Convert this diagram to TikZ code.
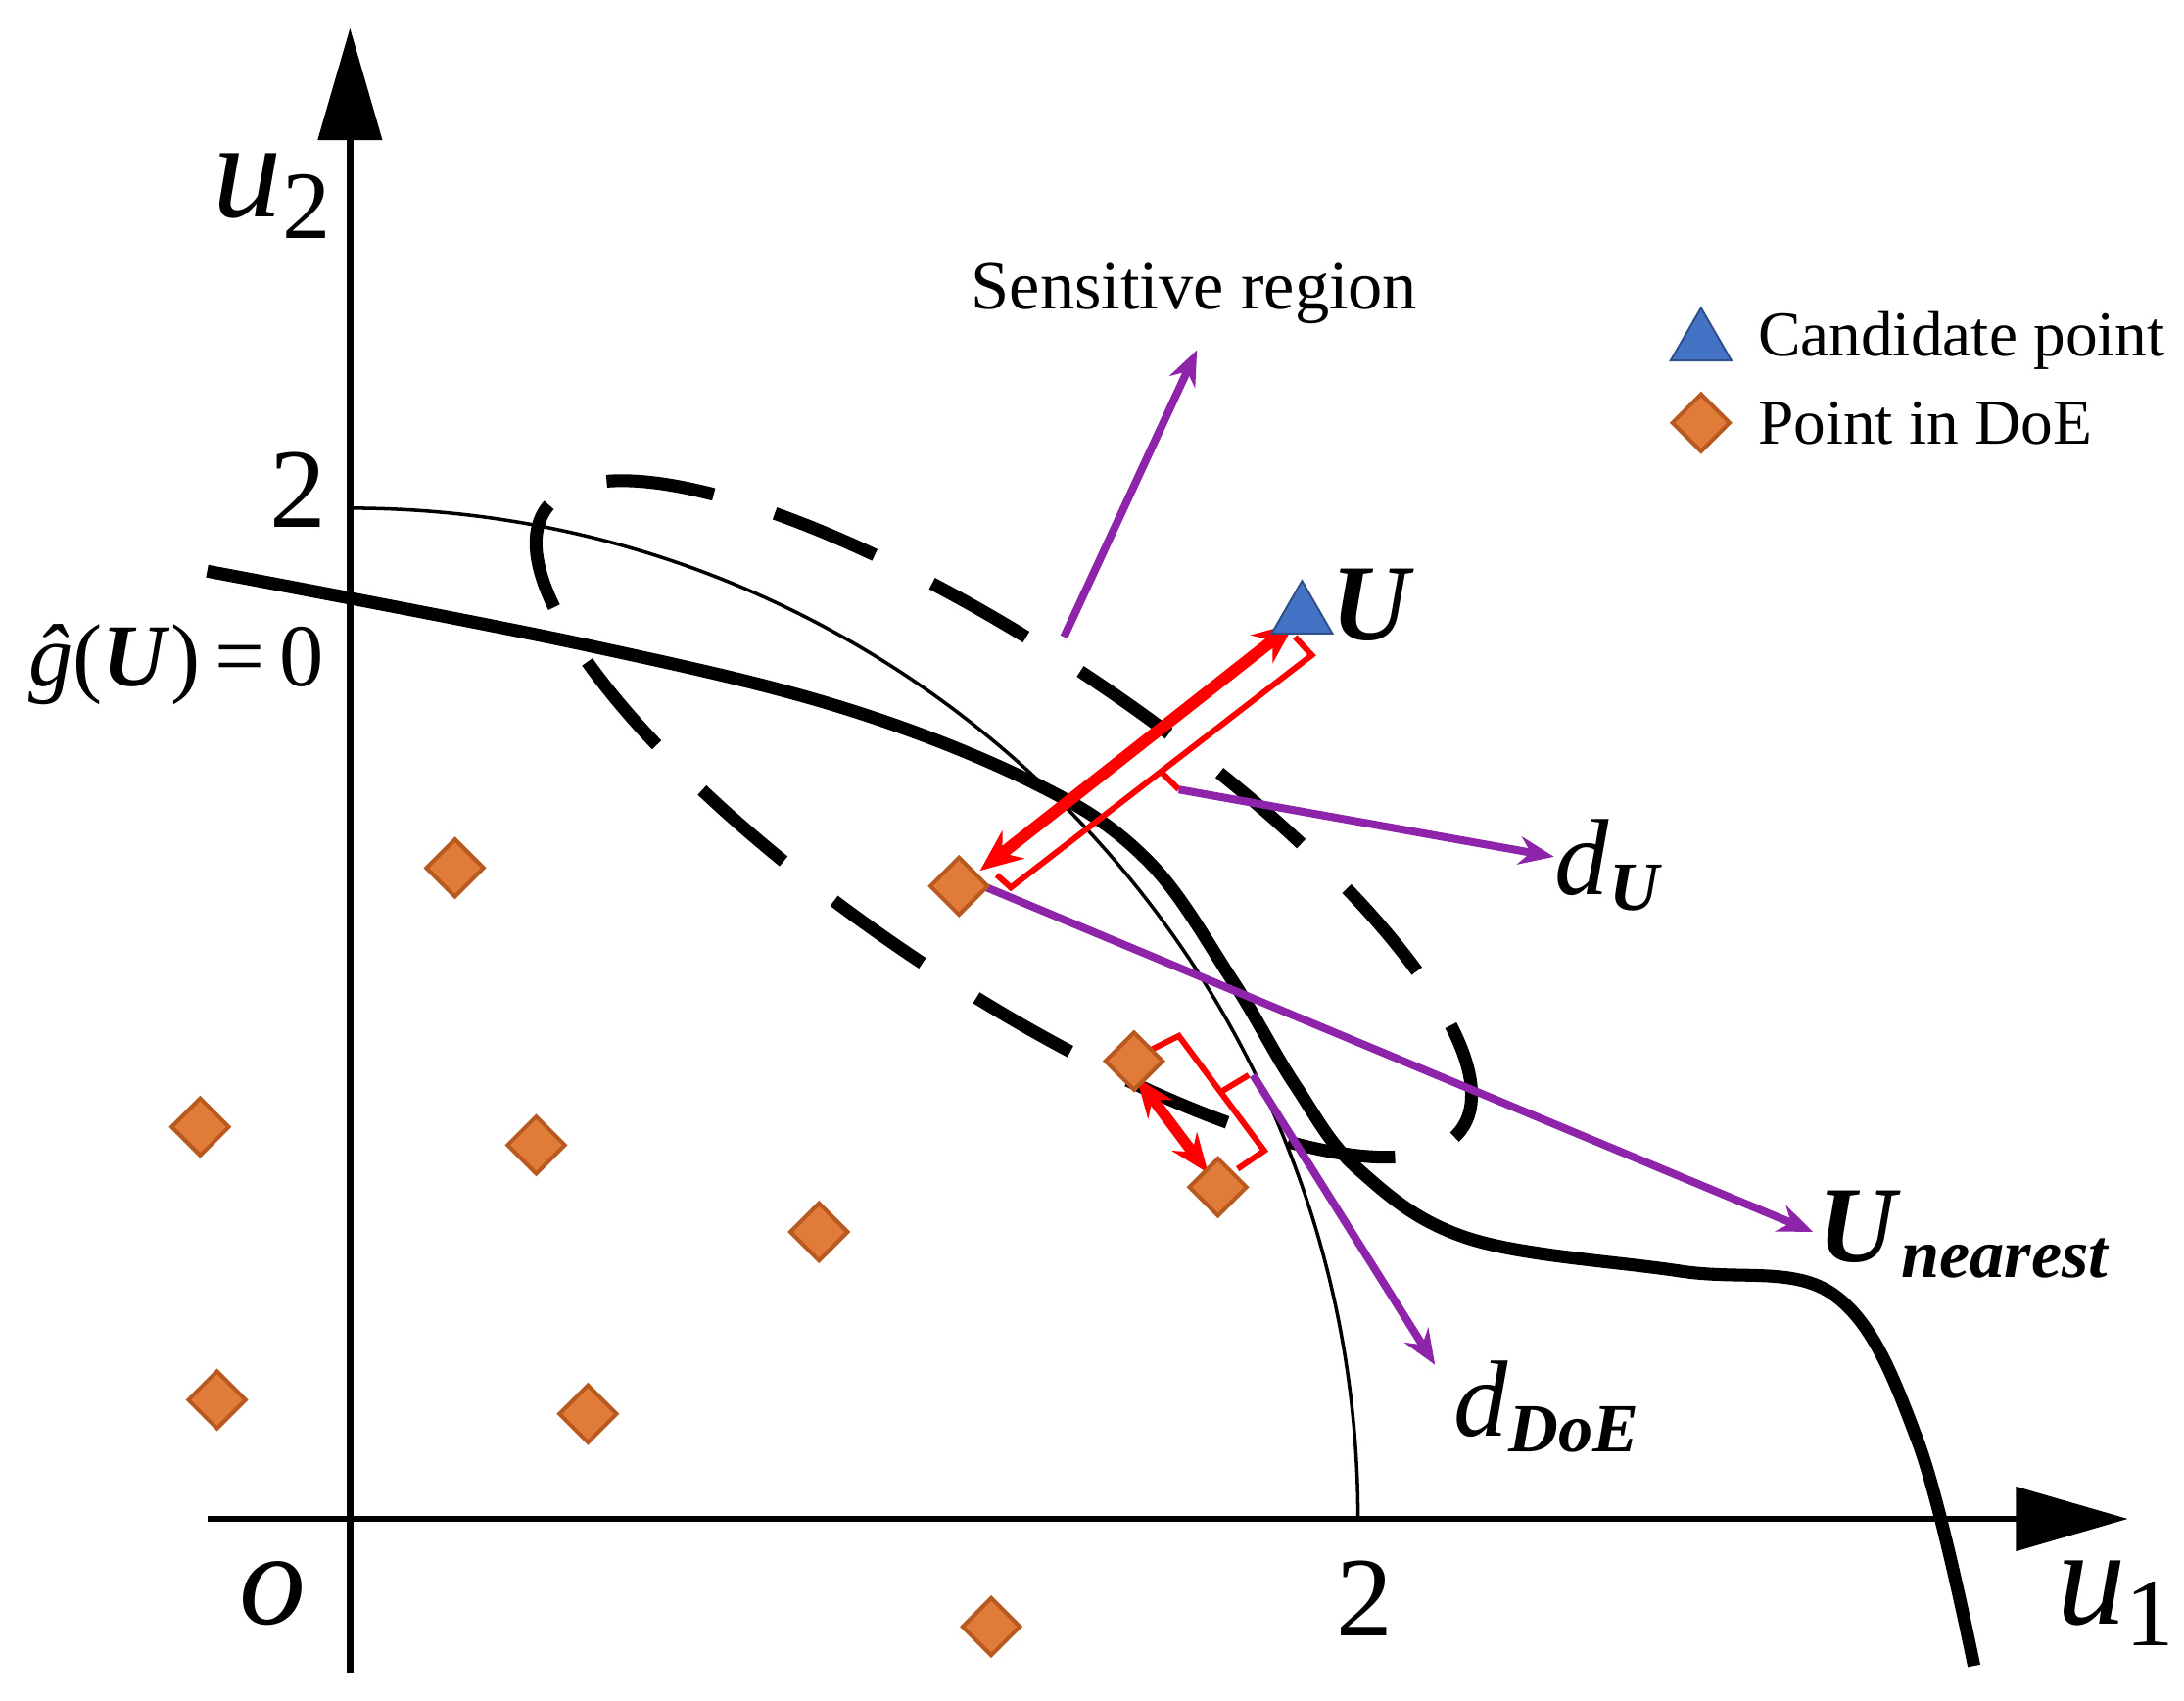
\documentclass[tikz,border=0pt]{standalone}
\usepackage{fontspec}
\setmainfont{Liberation Serif}
\usetikzlibrary{arrows.meta,shapes.geometric}
\definecolor{dia}{HTML}{E07B39}
\definecolor{diaE}{HTML}{B85A20}
\definecolor{tri}{HTML}{4472C4}
\definecolor{pur}{HTML}{8E24AA}
\tikzset{
 doe/.style={diamond,fill=dia,draw=diaE,line width=0.8pt,minimum width=0.42cm,minimum height=0.42cm,inner sep=0pt},
 cand/.style={regular polygon,regular polygon sides=3,fill=tri,draw=tri!70!black,minimum size=0.5cm,inner sep=0pt},
 parr/.style={pur,line width=1.6pt,-{Stealth[length=0.25cm,width=0.2cm]}},
 lab/.style={inner sep=0pt},
}
\begin{document}
\begin{tikzpicture}[x=0.01cm,y=-0.01cm]
\useasboundingbox (0,0) rectangle (1560,1215);
% axes
\coordinate (xs) at (148,1085); \coordinate (xe) at (1520,1085);
\coordinate (ys) at (250,1195); \coordinate (ye) at (250,20);
\draw[line width=1.3pt,-{Triangle[length=0.8cm,width=0.45cm]}] (xs)--(xe);
\draw[line width=1.3pt,-{Triangle[length=0.8cm,width=0.45cm]}] (ys)--(ye);
\node[lab,font=\fontsize{28}{28}\selectfont] (u2) at (195,140) {\textit{u}\textsubscript{2}};
\node[lab,font=\fontsize{28}{28}\selectfont] (u1) at (1512,1145) {\textit{u}\textsubscript{1}};
\node[lab,font=\fontsize{23}{23}\selectfont] (t2a) at (213,350) {2};
\node[lab,font=\fontsize{23}{23}\selectfont] (t2b) at (975,1142) {2};
\node[lab,font=\fontsize{27}{27}\selectfont] (o) at (195,1138) {\textit{o}};
\node[lab,font=\fontsize{18}{18}\selectfont] (g) at (126,475) {\textit{\^g}(\textbf{\textit{U}})\,=\,0};
% circle arc
\draw[line width=0.7pt] (250,363) arc[start angle=90,end angle=0,x radius=720,y radius=-722];
% limit state curve
\draw[line width=2.6pt] plot[smooth,tension=0.6] coordinates {(148,408) (415,460) (600,505) (740,560) (820,615) (880,700) (925,775) (970,835) (1050,885) (1200,908) (1310,925) (1370,1030) (1410,1190)};
% dashed ellipse
\draw[line width=2.6pt,dash pattern=on 22pt off 13pt,rotate around={-34:(717,585)}] (717,585) ellipse[x radius=395,y radius=-118];
% purple arrows
\coordinate (s1) at (760,455); \coordinate (s2) at (855,250);
\draw[parr] (s1)--(s2);
\node[lab,font=\fontsize{14}{14}\selectfont] (sr) at (853,210) {Sensitive region};
% red distances
\coordinate (pa) at (700,622); \coordinate (pb) at (925,445);
\draw[red,line width=2.4pt,{Stealth[length=0.3cm,width=0.25cm]}-{Stealth[length=0.3cm,width=0.25cm]}] (pa)--(pb);
\draw[red,line width=1.2pt] (712,625)--(722,634)--(937,468)--(925,455);
\draw[red,line width=1.2pt] (829,551)--(842,564);
\coordinate (pc) at (812,770); \coordinate (pd) at (863,838);
\draw[red,line width=2.2pt,{Stealth[length=0.28cm,width=0.22cm]}-{Stealth[length=0.28cm,width=0.22cm]}] (pc)--(pd);
\draw[red,line width=1.2pt] (822,750)--(842,740)--(903,822)--(884,835);
\draw[red,line width=1.2pt] (872,780)--(892,768);
% purple to labels
\draw[parr] (842,564)--(1110,612);
\node[lab,font=\fontsize{22}{22}\selectfont] (dU) at (1150,618) {\textit{d}\textsubscript{\textbf{\textit{\fontsize{14}{14}\selectfont U}}}};
\draw[parr] (700,632)--(1295,880);
\node[lab,font=\fontsize{22}{22}\selectfont,anchor=west] (Un) at (1298,882) {\textbf{\textit{U}}\textsubscript{\textbf{\textit{\fontsize{14}{14}\selectfont nearest}}}};
\draw[parr] (895,768)--(1025,975);
\node[lab,font=\fontsize{22}{22}\selectfont,anchor=west] (dD) at (1038,1005) {\textit{d}\textsubscript{\textbf{\textit{\fontsize{14}{14}\selectfont DoE}}}};
% points
\node[cand] (U) at (930,440) {};
\node[lab,font=\fontsize{22}{22}\selectfont,anchor=west] (Ul) at (950,432) {\textbf{\textit{U}}};
\foreach \n/\p in {d1/{(325,620)},d2/{(685,633)},d3/{(143,805)},d4/{(383,818)},d5/{(585,880)},d6/{(810,758)},d7/{(870,848)},d8/{(155,1000)},d9/{(420,1010)},d10/{(708,1162)}}
  \node[doe] (\n) at \p {};
% legend
\node[cand] (lt) at (1215,245) {};
\node[doe] (ld) at (1215,302) {};
\node[lab,anchor=west,font=\fontsize{13}{13}\selectfont] (lt1) at (1255,243) {Candidate point};
\node[lab,anchor=west,font=\fontsize{13}{13}\selectfont] (lt2) at (1255,302) {Point in DoE};
\end{tikzpicture}
\end{document}
